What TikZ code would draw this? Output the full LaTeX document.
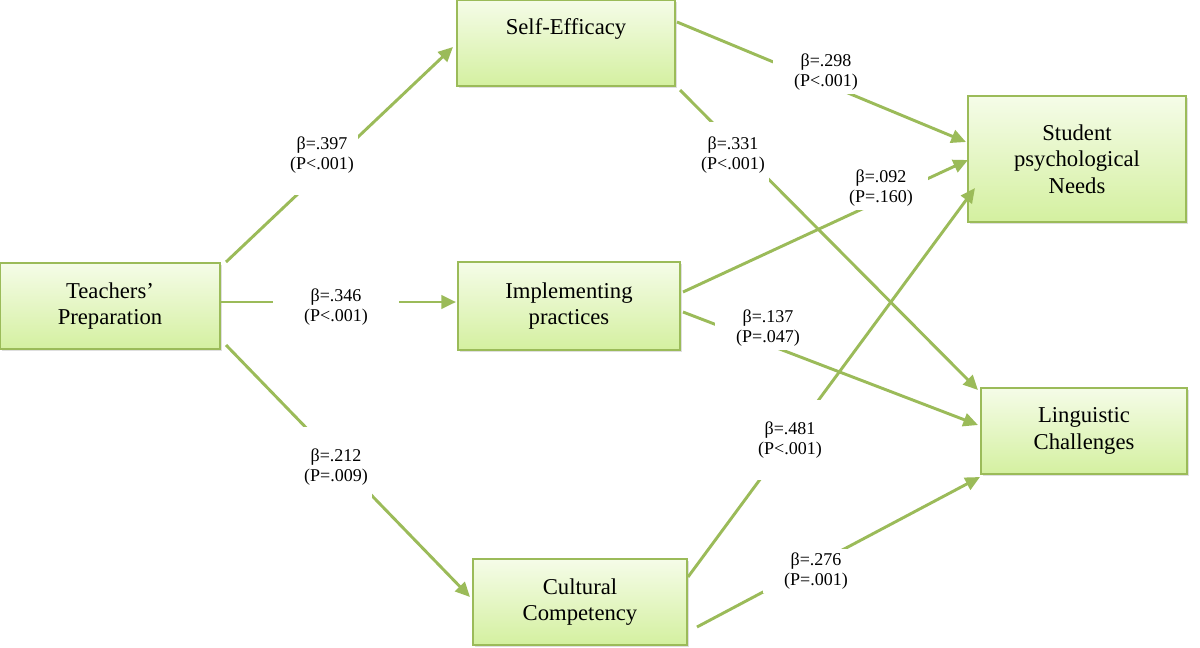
\documentclass[tikz,border=0pt]{standalone}
\usepackage{fontspec}
\setmainfont{Liberation Serif}
\usetikzlibrary{arrows.meta,shadows}
\definecolor{gb}{RGB}{155,187,89}
\definecolor{gtop}{RGB}{245,252,232}
\definecolor{gbot}{RGB}{212,240,160}
\begin{document}
\begin{tikzpicture}[x=0.75pt,y=-0.75pt,
 box/.style={draw=gb,line width=1.5pt,top color=gtop,bottom color=gbot,align=center,font=\fontsize{17}{20}\selectfont,inner sep=0pt,drop shadow={opacity=0.25,shadow xshift=1.5pt,shadow yshift=-1.5pt}},
 lab/.style={fill=white,align=center,font=\fontsize{13.5}{15}\selectfont,inner sep=3pt},
 arr/.style={draw=gb,line width=2.2pt,-{Triangle[length=11pt,width=10pt]}}]
\useasboundingbox (0,0) rectangle (1200,647);
\node[box,minimum width=163pt,minimum height=65pt] (se) at (566,43) {\raisebox{24pt}{Self-Efficacy}};
\node[box,minimum width=165pt,minimum height=65pt] (tp) at (110,306) {Teachers’\\Preparation};
\node[box,minimum width=166pt,minimum height=66pt] (ip) at (569,306) {Implementing\\practices};
\node[box,minimum width=161pt,minimum height=64pt] (cc) at (580,602) {Cultural\\Competency};
\node[box,minimum width=164pt,minimum height=94pt] (sp) at (1077,159) {Student\\psychological\\Needs};
\node[box,minimum width=154pt,minimum height=65pt] (lc) at (1084,431) {Linguistic\\Challenges};
\coordinate (a1) at (226,262); \coordinate (b1) at (453,47);
\coordinate (a2) at (220,302); \coordinate (b2) at (456,302);
\coordinate (a3) at (226,345); \coordinate (b3) at (470,597);
\coordinate (a4) at (677,22); \coordinate (b4) at (966,142);
\coordinate (a5) at (680,90); \coordinate (b5) at (978,390);
\coordinate (a6) at (683,292); \coordinate (b6) at (968,160);
\coordinate (a7) at (683,312); \coordinate (b7) at (978,425);
\coordinate (a8) at (688,577); \coordinate (b8) at (975,188);
\coordinate (a9) at (697,627); \coordinate (b9) at (980,477);
\foreach \i in {1,...,9}{\draw[arr] (a\i) -- (b\i);}
\node[lab,minimum height=60pt] at (322,155) {β=.397\\(P<.001)};
\node[lab,minimum height=30pt,minimum width=95pt] at (336,307) {β=.346\\(P<.001)};
\node[lab,minimum height=60pt] at (336,467) {β=.212\\(P=.009)};
\node[lab,minimum width=80pt] at (826,72) {β=.298\\(P<.001)};
\node[lab,minimum height=50pt] at (733,155) {β=.331\\(P<.001)};
\node[lab,minimum width=70pt] at (881,188) {β=.092\\(P=.160)};
\node[lab,minimum width=80pt] at (768,328) {β=.137\\(P=.047)};
\node[lab,minimum height=60pt] at (790,440) {β=.481\\(P<.001)};
\node[lab,minimum width=80pt] at (816,571) {β=.276\\(P=.001)};
\end{tikzpicture}
\end{document}
